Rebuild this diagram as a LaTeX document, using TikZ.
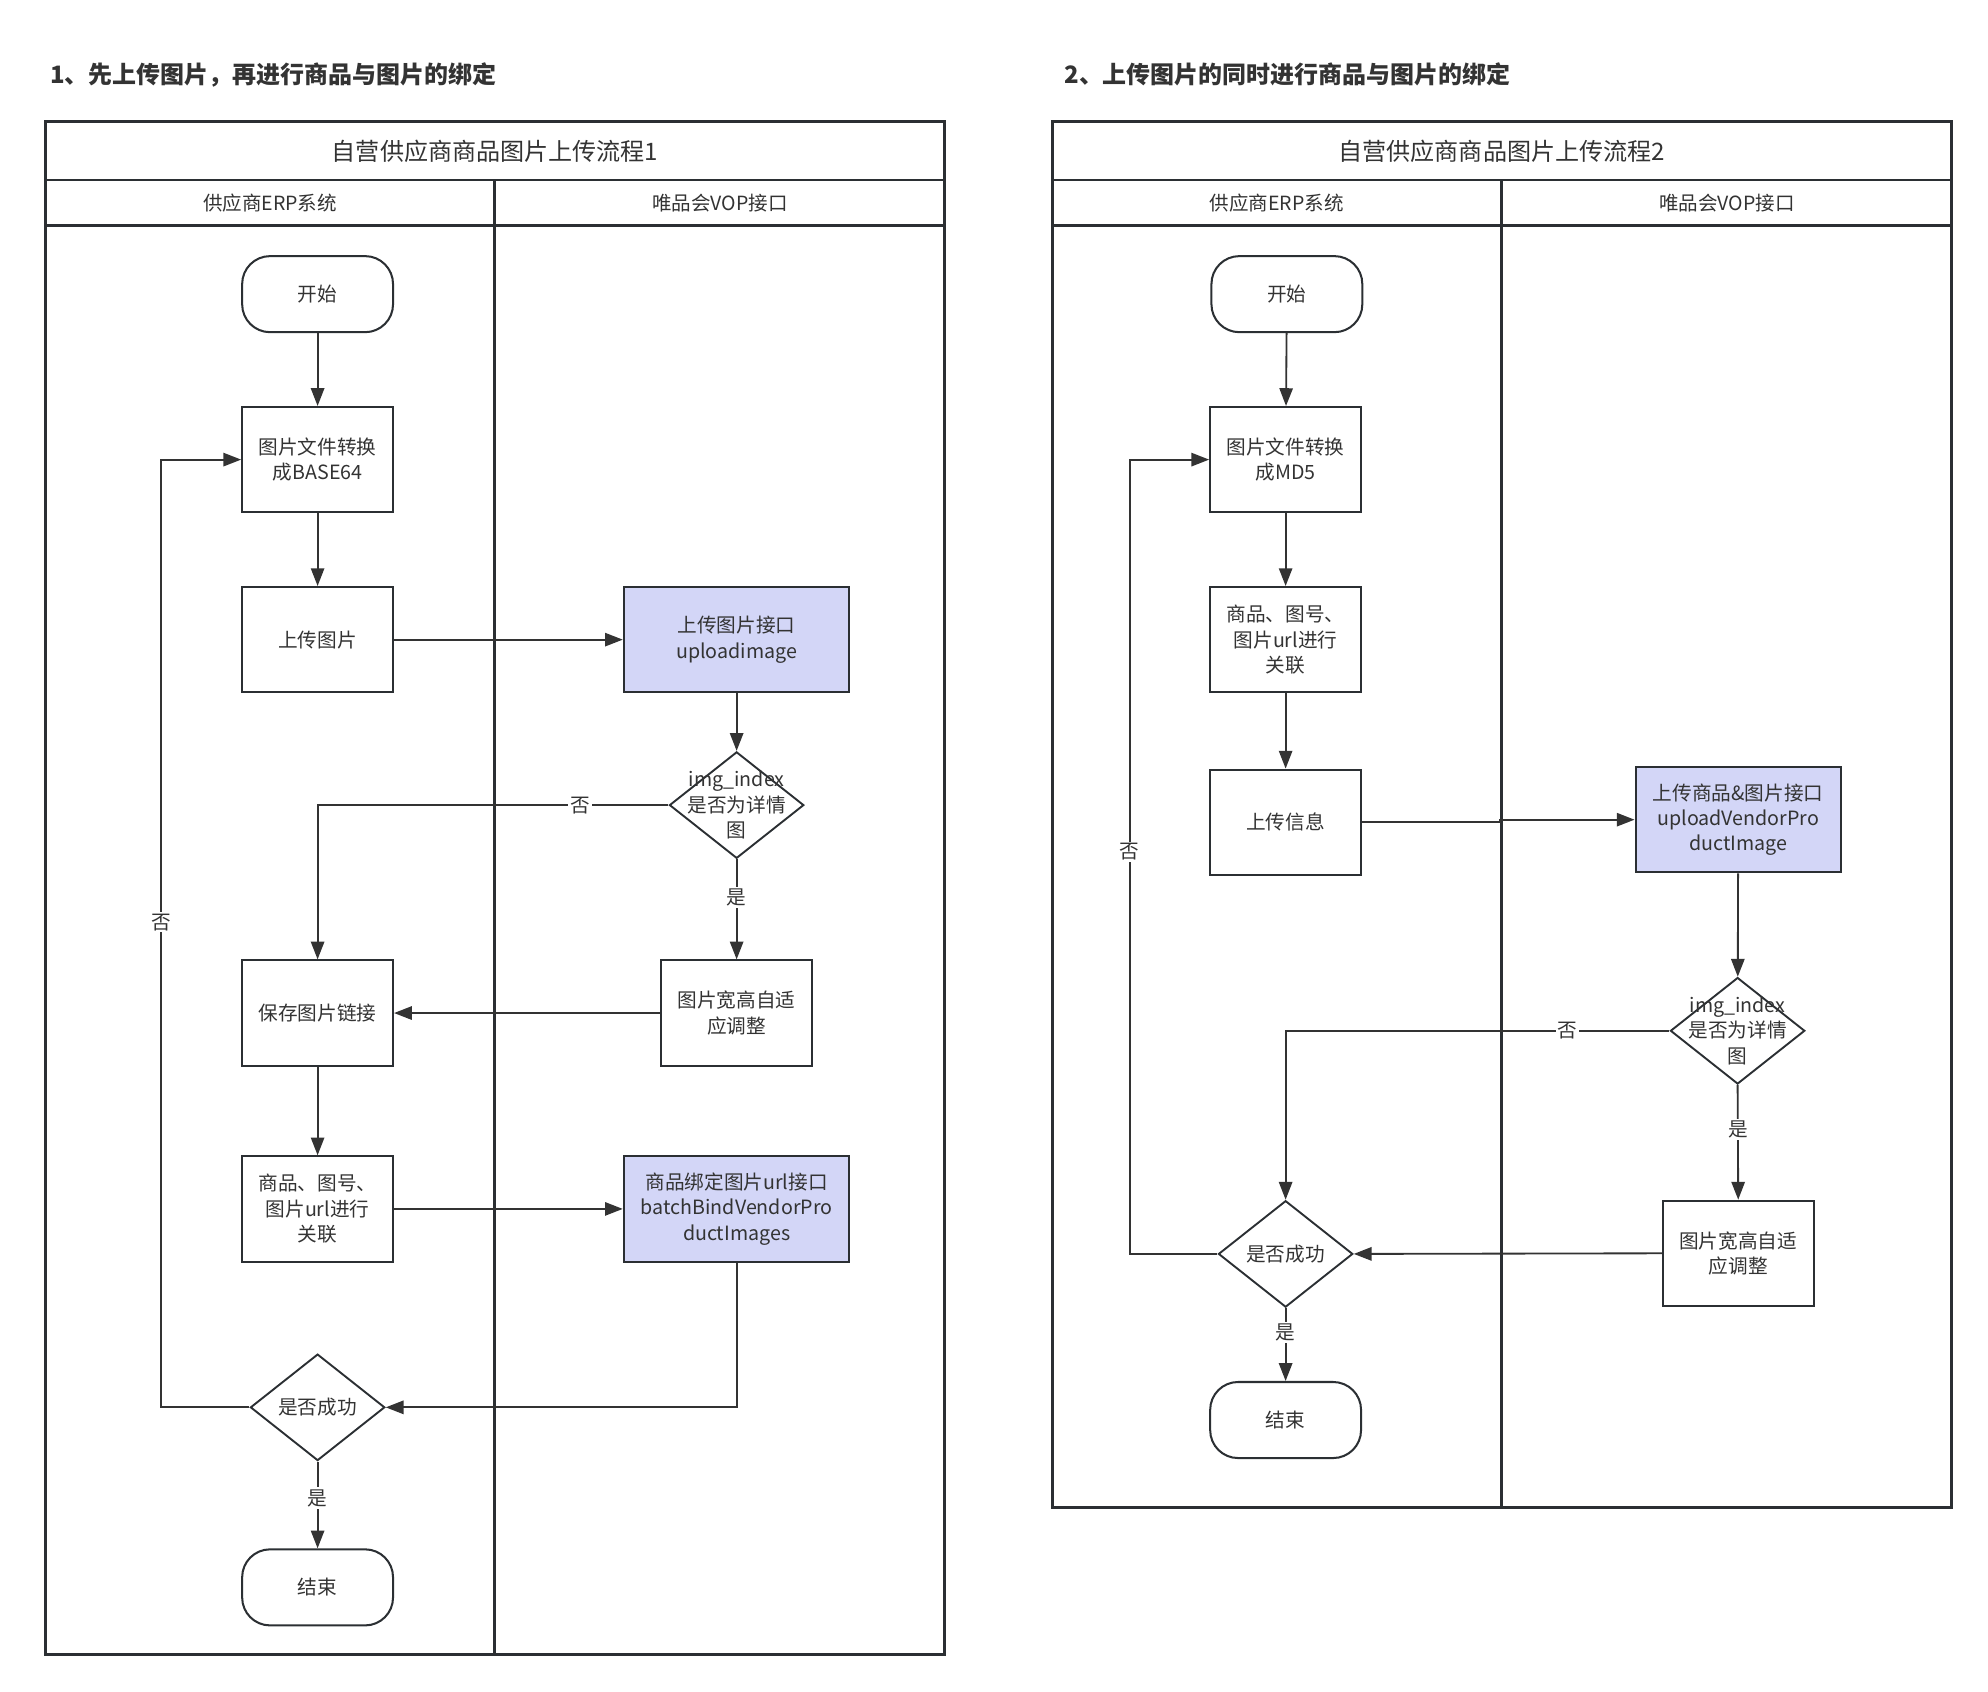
\documentclass[tikz,border=0pt]{standalone}
\usepackage{fontspec}
\setmainfont{Noto Sans CJK SC}
\usetikzlibrary{shapes.geometric,arrows.meta}
\definecolor{ink}{HTML}{333333}
\definecolor{laneink}{HTML}{2B2F33}
\definecolor{lav}{HTML}{D3D6F7}
\tikzset{
  lane/.style={draw=laneink,line width=2pt},
  divider/.style={draw=laneink,line width=2.6pt},
  base/.style={font=\fontsize{15.5}{20}\selectfont,text=ink,align=center},
  proc/.style={base,draw=laneink,line width=1.6pt,minimum width=119,minimum height=83,inner sep=0pt},
  api/.style={proc,fill=lav,minimum width=178},
  term/.style={proc,minimum height=60,rounded corners=22pt},
  dec/.style={draw=laneink,line width=1.5pt,diamond,minimum width=106,minimum height=84,inner sep=0pt},
  arr/.style={draw=ink,line width=1.45pt,-{Triangle[length=14pt,width=10.5pt]}},
  lbl/.style={base,fill=white,inner sep=1.5pt},
  hdr/.style={font=\fontsize{15.4}{18}\selectfont,text=ink},
  ttl/.style={font=\fontsize{19}{22}\selectfont,text=ink},
  big/.style={font=\bfseries\fontsize{18.9}{22}\selectfont,text=ink,anchor=west}
}
\begin{document}
\begin{tikzpicture}[x=1pt,y=-1pt]
\useasboundingbox (0,0) rectangle (1568,1334);
% ---------- diagram 1 ----------
\node[big] (t1) at (36,59) {1、先上传图片，再进行商品与图片的绑定};
\draw[lane] (36,96) rectangle (745,1305);
\draw[lane] (36,142) -- (745,142);
\draw[lane] (36,178) -- (745,178);
\draw[divider] (390,142) -- (390,1305);
\node[ttl] (h1) at (390.5,119) {自营供应商商品图片上传流程1};
\node[hdr] (h1a) at (213,160) {供应商ERP系统};
\node[hdr] (h1b) at (568,160) {唯品会VOP接口};

\node[term] (s1) at (250.5,232) {开始};
\node[proc] (b1) at (250.5,362.5) {图片文件转换\\成BASE64};
\node[proc] (u1) at (250.5,504.5) {上传图片};
\node[api] (ui1) at (581,504.5) {上传图片接口\\uploadimage};
\node[dec] (d1) at (581,635) {};
\node[base] (d1t) at (581,635) {img\_index\\是否为详情\\图};
\node[proc] (adj1) at (581,799) {图片宽高自适\\应调整};
\node[proc] (sv1) at (250.5,799) {保存图片链接};
\node[proc] (rel1) at (250.5,953.5) {商品、图号、\\图片url进行\\关联};
\node[api] (bind1) at (581,953.5) {商品绑定图片url接口\\batchBindVendorPro\\ductImages};
\node[dec] (ok1) at (250.5,1110) {};
\node[base] (ok1t) at (250.5,1110) {是否成功};
\node[term] (e1) at (250.5,1252) {结束};
\coordinate (l1) at (127,1110);

\draw[arr] (s1) -- (b1);
\draw[arr] (b1) -- (u1);
\draw[arr] (u1) -- (ui1);
\draw[arr] (ui1) -- (d1);
\draw[arr] (d1.west) -| node[lbl,pos=0.126]{否} (sv1.north);
\draw[arr] (d1.south) -- node[lbl,pos=0.38]{是} (adj1.north);
\draw[arr] (adj1) -- (sv1);
\draw[arr] (sv1) -- (rel1);
\draw[arr] (rel1) -- (bind1);
\draw[arr] (bind1.south) |- (ok1.east);
\draw[arr] (ok1.south) -- node[lbl,pos=0.42]{是} (e1.north);
\draw[arr] (ok1.west) -- (l1) |- node[lbl,pos=0.256]{否} (b1.west);

% ---------- diagram 2 ----------
\node[big] (t2) at (836,59) {2、上传图片的同时进行商品与图片的绑定};
\draw[lane] (830,96) rectangle (1539,1189);
\draw[lane] (830,142) -- (1539,142);
\draw[lane] (830,178) -- (1539,178);
\draw[divider] (1184,142) -- (1184,1189);
\node[ttl] (h2) at (1184.5,119) {自营供应商商品图片上传流程2};
\node[hdr] (h2a) at (1007,160) {供应商ERP系统};
\node[hdr] (h2b) at (1362,160) {唯品会VOP接口};

\node[term] (s2) at (1015,232) {开始};
\node[proc] (b2) at (1014,362.5) {图片文件转换\\成MD5};
\node[proc] (rel2) at (1014,504.5) {商品、图号、\\图片url进行\\关联};
\node[proc] (inf2) at (1014,648.5) {上传信息};
\node[api,minimum width=162] (api2) at (1371,646.5) {上传商品\&图片接口\\uploadVendorPro\\ductImage};
\node[dec] (d2) at (1370.5,813) {};
\node[base] (d2t) at (1370.5,813) {img\_index\\是否为详情\\图};
\node[proc] (adj2) at (1371,988.5) {图片宽高自适\\应调整};
\node[dec] (ok2) at (1014,989) {};
\node[base] (ok2t) at (1014,989) {是否成功};
\node[term] (e2) at (1014,1120) {结束};
\coordinate (l2) at (891,989);
\coordinate (j2) at (1183,648.5);

\draw[arr] (s2) -- (b2);
\draw[arr] (b2) -- (rel2);
\draw[arr] (rel2) -- (inf2);
\draw[arr] (inf2.east) -- (j2) |- (api2.west);
\draw[arr] (api2) -- (d2);
\draw[arr] (d2.south) -- node[lbl,pos=0.39]{是} (adj2.north);
\draw[arr] (d2.west) -| node[lbl,pos=0.133]{否} (ok2.north);
\draw[arr] (adj2.west) -- (ok2.east);
\draw[arr] (ok2.south) -- node[lbl,pos=0.33]{是} (e2.north);
\draw[arr] (ok2.west) -- (l2) |- node[lbl,pos=0.253]{否} (b2.west);
\end{tikzpicture}
\end{document}
